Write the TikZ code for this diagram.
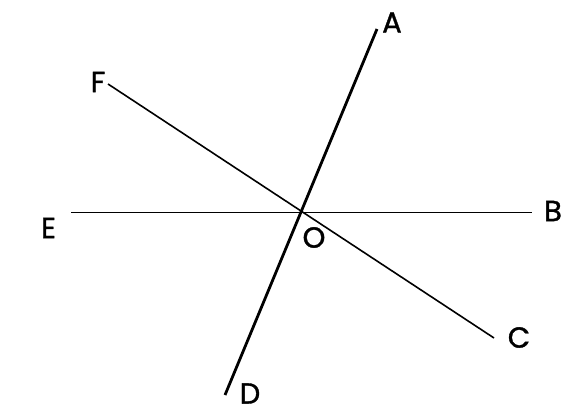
\documentclass[tikz,border=0pt]{standalone}
\usepackage{fontspec}
\setmainfont{Poppins}
\newfontfamily\lblfont{Poppins}[FakeBold=1.2]
\begin{document}
\begin{tikzpicture}[x=1pt,y=-1pt,
  thin line/.style={line width=1.6pt,black},
  thick line/.style={line width=2.8pt,black},
  lbl/.style={font=\lblfont\fontsize{29}{29}\selectfont,inner sep=0pt,anchor=center}]
\useasboundingbox (0,0) rectangle (577,411);
\coordinate (O) at (301.5,212);
\coordinate (A) at (377,29);
\coordinate (D) at (225,395);
\coordinate (E) at (71,212.5);
\coordinate (B) at (532,212.5);
\coordinate (F) at (108,84);
\coordinate (C) at (494,338);
\draw[thin line] (E) -- (B);
\draw[thin line] (F) -- (C);
\draw[thick line] (D) -- (A);
\node[lbl] (lA) at (392,22.5) {A};
\node[lbl] (lB) at (553,211) {B};
\node[lbl] (lC) at (519,337.5) {C};
\node[lbl] (lD) at (250,393.5) {D};
\node[lbl] (lE) at (48.5,228) {E};
\node[lbl] (lF) at (98,82) {F};
\node[lbl] (lO) at (314,237.5) {O};
\end{tikzpicture}
\end{document}
